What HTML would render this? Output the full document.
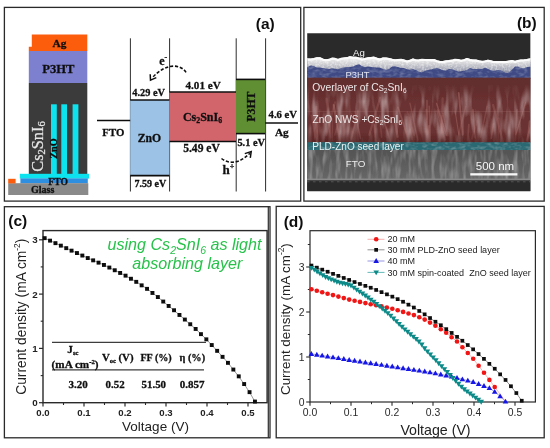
<!DOCTYPE html>
<html lang="en"><head><meta charset="utf-8"><title>Cs2SnI6 solar cell figure</title>
<style>
html,body{margin:0;padding:0;background:#fff;}
body{width:550px;height:448px;overflow:hidden;}
svg{display:block;}
.s{font-family:"Liberation Sans", sans-serif;}
.t{font-family:"Liberation Serif", serif;font-weight:bold;stroke:#111;stroke-width:0.3px;}
.b{font-family:"Liberation Sans", sans-serif;font-weight:bold;}
</style></head><body>
<svg width="550" height="448" viewBox="0 0 550 448">
<defs>
<filter id="soft" x="-5%" y="-5%" width="110%" height="110%"><feGaussianBlur stdDeviation="0.35"/></filter>
<filter id="noiseA" x="0" y="0" width="100%" height="100%"><feTurbulence type="fractalNoise" baseFrequency="0.16 0.035" numOctaves="2" seed="7" result="n"/><feColorMatrix in="n" type="matrix" values="0 0 0 0 1  0 0 0 0 1  0 0 0 0 1  2.6 0 0 0 -1.12"/><feComposite in2="SourceGraphic" operator="in"/></filter>
<filter id="noiseB" x="0" y="0" width="100%" height="100%"><feTurbulence type="fractalNoise" baseFrequency="0.45 0.45" numOctaves="2" seed="3" result="n"/><feColorMatrix in="n" type="matrix" values="0 0 0 0 1  0 0 0 0 1  0 0 0 0 1  2.2 0 0 0 -0.9"/><feComposite in2="SourceGraphic" operator="in"/></filter>
<filter id="noiseC" x="0" y="0" width="100%" height="100%"><feTurbulence type="fractalNoise" baseFrequency="0.18 0.3" numOctaves="2" seed="5" result="n"/><feColorMatrix in="n" type="matrix" values="0 0 0 0 1  0 0 0 0 1  0 0 0 0 1  2.4 0 0 0 -1.0"/><feComposite in2="SourceGraphic" operator="in"/></filter>
<filter id="noiseD" x="0" y="0" width="100%" height="100%"><feTurbulence type="fractalNoise" baseFrequency="0.22 0.05" numOctaves="2" seed="9" result="n"/><feColorMatrix in="n" type="matrix" values="0 0 0 0 1  0 0 0 0 1  0 0 0 0 1  2.4 0 0 0 -1.0"/><feComposite in2="SourceGraphic" operator="in"/></filter>
<filter id="blur1"><feGaussianBlur stdDeviation="0.7"/></filter>
<filter id="blur05"><feGaussianBlur stdDeviation="0.45"/></filter>
<linearGradient id="agg" x1="0" y1="57" x2="0" y2="72" gradientUnits="userSpaceOnUse"><stop offset="0" stop-color="#f6f6f6"/><stop offset="0.45" stop-color="#d0d0d4"/><stop offset="1" stop-color="#8f93a6"/></linearGradient>
<linearGradient id="redfade" x1="0" y1="84" x2="0" y2="142" gradientUnits="userSpaceOnUse"><stop offset="0" stop-color="#c48a88" stop-opacity="0"/><stop offset="0.3" stop-color="#c48a88" stop-opacity="1"/><stop offset="1" stop-color="#c48a88" stop-opacity="1"/></linearGradient>
<linearGradient id="redbot" x1="0" y1="132" x2="0" y2="142.5" gradientUnits="userSpaceOnUse"><stop offset="0" stop-color="#4a1c1c" stop-opacity="0"/><stop offset="1" stop-color="#4a1c1c" stop-opacity="0.55"/></linearGradient>
<linearGradient id="redtop" x1="0" y1="77.8" x2="0" y2="103.8" gradientUnits="userSpaceOnUse"><stop offset="0" stop-color="#5e2a2a" stop-opacity="0.6"/><stop offset="0.5" stop-color="#5e2a2a" stop-opacity="0.5"/><stop offset="1" stop-color="#5e2a2a" stop-opacity="0"/></linearGradient>
<linearGradient id="ftog" x1="0" y1="151" x2="0" y2="178" gradientUnits="userSpaceOnUse"><stop offset="0" stop-color="#545454"/><stop offset="1" stop-color="#666666"/></linearGradient>
<clipPath id="semclip"><rect x="307.2" y="33.2" width="223.5" height="158"/></clipPath>
</defs>
<rect x="0" y="0" width="550" height="448" fill="#ffffff"/>
<g filter="url(#soft)">
<rect x="4.4" y="7.4" width="296.3" height="193.7" fill="#fff" stroke="#2a2a2a" stroke-width="1.3"/>
<rect x="303.9" y="7.4" width="240.3" height="193.7" fill="#fff" stroke="#2a2a2a" stroke-width="1.3"/>
<rect x="4.4" y="206.7" width="265.6" height="231.1" fill="#fff" stroke="#2a2a2a" stroke-width="1.3"/>
<rect x="276.2" y="206.4" width="268.0" height="231.4" fill="#fff" stroke="#2a2a2a" stroke-width="1.3"/>
<g id="panel-a">
<rect x="28.8" y="83" width="58.5" height="91.3" fill="#3b3b3b"/>
<rect x="28.8" y="51" width="58.5" height="32" fill="#7d80cf"/>
<polygon points="31.8,34.5 87.3,34.5 87.3,51 28.8,51 28.8,46.8 31.8,46.8" fill="#fb5d10"/>
<rect x="51.0" y="104.3" width="5.8" height="70.5" fill="#0fe3ee"/>
<rect x="61.3" y="104.3" width="5.7" height="70.5" fill="#0fe3ee"/>
<rect x="72.6" y="104.3" width="5.8" height="70.5" fill="#0fe3ee"/>
<rect x="19.8" y="173.8" width="69.2" height="4.8" fill="#0fe3ee"/>
<rect x="20.4" y="178.4" width="67.4" height="5" fill="#2f8fe0"/>
<rect x="8.2" y="183.2" width="80.1" height="11.8" fill="#8a8a8a"/>
<rect x="8.2" y="178.8" width="7.4" height="4.6" fill="#fb5d10"/>
<text class="t" x="59.5" y="47" font-size="11.3" text-anchor="middle" fill="#111">Ag</text>
<text class="t" x="58.3" y="72.5" font-size="12.6" text-anchor="middle" fill="#111">P3HT</text>
<text x="0" y="0" transform="translate(42.6,146.5) rotate(-90)" stroke="#e6e6e6" stroke-width="0.25" font-family='"Liberation Serif", serif' font-size="16.3" text-anchor="middle" fill="#e6e6e6">Cs<tspan font-size="10.5" dy="2.5">2</tspan><tspan dy="-2.5">SnI</tspan><tspan font-size="10.5" dy="2.5">6</tspan></text>
<text class="t" x="0" y="0" transform="translate(57.3,148.5) rotate(-90)" font-size="10.2" text-anchor="middle" fill="#111">ZnO</text>
<text class="t" x="58.1" y="184.6" font-size="9.6" text-anchor="middle" fill="#111">FTO</text>
<text class="t" x="42.7" y="192.7" font-size="10" text-anchor="middle" fill="#111">Glass</text>
<line x1="130.4" y1="38.3" x2="130.4" y2="191.5" stroke="#2e2e2e" stroke-width="1"/>
<line x1="169.6" y1="38.3" x2="169.6" y2="191.5" stroke="#2e2e2e" stroke-width="1"/>
<line x1="236.2" y1="38.3" x2="236.2" y2="191.5" stroke="#2e2e2e" stroke-width="1"/>
<line x1="265.6" y1="38.3" x2="265.6" y2="191.5" stroke="#2e2e2e" stroke-width="1"/>
<rect x="130.2" y="100" width="39.2" height="75.6" fill="#9cc2e5"/>
<rect x="169.4" y="92" width="66.6" height="49.5" fill="#d2656c"/>
<rect x="236" y="79.4" width="29.2" height="54.2" fill="#5f8f33"/>
<line x1="130.2" y1="100.0" x2="169.4" y2="100.0" stroke="#111" stroke-width="1.6"/>
<line x1="130.2" y1="175.6" x2="169.4" y2="175.6" stroke="#111" stroke-width="1.6"/>
<line x1="169.4" y1="92.0" x2="236.0" y2="92.0" stroke="#111" stroke-width="1.6"/>
<line x1="169.4" y1="141.5" x2="236.0" y2="141.5" stroke="#111" stroke-width="1.6"/>
<line x1="236.0" y1="79.4" x2="265.2" y2="79.4" stroke="#111" stroke-width="1.6"/>
<line x1="236.0" y1="133.6" x2="265.2" y2="133.6" stroke="#111" stroke-width="1.6"/>
<line x1="97.0" y1="120.5" x2="130.2" y2="120.5" stroke="#111" stroke-width="1.6"/>
<line x1="265.2" y1="123.0" x2="298.0" y2="123.0" stroke="#111" stroke-width="1.6"/>
<text class="t" x="113.3" y="136.1" font-size="10.8" text-anchor="middle" fill="#111">FTO</text>
<text class="t" x="148.6" y="96.2" font-size="10.3" text-anchor="middle" fill="#111">4.29 eV</text>
<text class="t" x="203.1" y="88.8" font-size="11.1" text-anchor="middle" fill="#111">4.01 eV</text>
<text class="t" x="149.5" y="142.0" font-size="11.7" text-anchor="middle" fill="#111">ZnO</text>
<text class="t" x="202.5" y="121.0" font-size="12.0" text-anchor="middle" fill="#111">Cs<tspan font-size="7.8" dy="2.2">2</tspan><tspan dy="-2.2">SnI</tspan><tspan font-size="7.8" dy="2.2">6</tspan></text>
<text class="t" x="201.5" y="151.8" font-size="11.6" text-anchor="middle" fill="#111">5.49 eV</text>
<text class="t" x="150.4" y="187.3" font-size="10.0" text-anchor="middle" fill="#111">7.59 eV</text>
<text class="t" x="251.2" y="146.0" font-size="10.3" text-anchor="middle" fill="#111">5.1 eV</text>
<text class="t" x="282.8" y="118.4" font-size="10.7" text-anchor="middle" fill="#111">4.6 eV</text>
<text class="t" x="281.8" y="135.8" font-size="11.3" text-anchor="middle" fill="#111">Ag</text>
<text class="t" x="0" y="0" transform="translate(255.2,106.6) rotate(-90)" font-size="11.8" text-anchor="middle" fill="#111">P3HT</text>
<text class="t" x="163.2" y="64.6" font-size="12.0" text-anchor="middle" fill="#111">e<tspan font-size="8" dy="-4.5">-</tspan></text>
<text class="t" x="228.5" y="173.8" font-size="13.0" text-anchor="middle" fill="#111">h<tspan font-size="8" dy="-4.5">+</tspan></text>
<path d="M186,72.4 C181,64 166,62.5 152.5,77.5" fill="none" stroke="#111" stroke-width="1.6" stroke-dasharray="3.2,1.8"/>
<polyline points="150.2,74.2 150.5,80.2 156.3,77.6" fill="none" stroke="#111" stroke-width="1.5"/>
<path d="M221.5,158.5 C229,164.5 240,163.5 249.8,153.2" fill="none" stroke="#111" stroke-width="1.6" stroke-dasharray="3.2,1.8"/>
<polyline points="244.8,153.6 251.2,151.6 250.3,157.8" fill="none" stroke="#111" stroke-width="1.5"/>
<text class="b" x="265.2" y="29.3" font-size="15.5" text-anchor="middle" fill="#111">(a)</text>
</g>
<g id="panel-b">
<g clip-path="url(#semclip)">
<rect x="307" y="33" width="223.5" height="158" fill="#2c2c2c"/>
<rect x="307" y="62" width="223.5" height="17" fill="#404c86"/>
<rect x="307" y="62" width="223.5" height="17" fill="#6f7fc0" opacity="0.22" filter="url(#noiseC)"/>
<rect x="307" y="77.8" width="223.5" height="64.7" fill="#6b3131"/>
<rect x="307" y="77.8" width="223.5" height="26" fill="url(#redtop)"/>
<g filter="url(#blur05)">
<rect x="307" y="84" width="223.5" height="58.5" fill="url(#redfade)" opacity="0.42" filter="url(#noiseA)"/>
<line x1="526.6" y1="140.5" x2="531.3" y2="125.7" stroke="#c98f8c" stroke-width="2.1" opacity="0.22" stroke-linecap="round"/>
<line x1="414.2" y1="135.2" x2="407.5" y2="112.2" stroke="#c98f8c" stroke-width="1.9" opacity="0.19" stroke-linecap="round"/>
<line x1="458.9" y1="134.9" x2="455.1" y2="111.1" stroke="#c98f8c" stroke-width="1.1" opacity="0.30" stroke-linecap="round"/>
<line x1="326.2" y1="134.9" x2="335.0" y2="102.3" stroke="#c98f8c" stroke-width="2.1" opacity="0.16" stroke-linecap="round"/>
<line x1="347.7" y1="134.8" x2="351.8" y2="113.0" stroke="#c98f8c" stroke-width="1.2" opacity="0.19" stroke-linecap="round"/>
<line x1="457.2" y1="140.5" x2="465.6" y2="106.5" stroke="#c98f8c" stroke-width="1.4" opacity="0.19" stroke-linecap="round"/>
<line x1="315.1" y1="139.1" x2="315.9" y2="123.3" stroke="#c98f8c" stroke-width="2.0" opacity="0.25" stroke-linecap="round"/>
<line x1="441.8" y1="137.7" x2="442.6" y2="98.4" stroke="#c98f8c" stroke-width="2.2" opacity="0.20" stroke-linecap="round"/>
<line x1="339.9" y1="140.7" x2="333.7" y2="105.1" stroke="#c98f8c" stroke-width="2.1" opacity="0.32" stroke-linecap="round"/>
<line x1="428.8" y1="141.4" x2="426.3" y2="110.0" stroke="#c98f8c" stroke-width="2.3" opacity="0.17" stroke-linecap="round"/>
<line x1="360.5" y1="138.6" x2="355.0" y2="111.4" stroke="#c98f8c" stroke-width="1.5" opacity="0.27" stroke-linecap="round"/>
<line x1="412.5" y1="142.0" x2="411.1" y2="116.4" stroke="#c98f8c" stroke-width="1.6" opacity="0.13" stroke-linecap="round"/>
<line x1="369.3" y1="134.9" x2="380.1" y2="97.7" stroke="#c98f8c" stroke-width="2.1" opacity="0.22" stroke-linecap="round"/>
<line x1="515.3" y1="140.1" x2="517.0" y2="109.5" stroke="#c98f8c" stroke-width="1.6" opacity="0.18" stroke-linecap="round"/>
<line x1="381.7" y1="137.4" x2="379.5" y2="115.5" stroke="#c98f8c" stroke-width="1.5" opacity="0.19" stroke-linecap="round"/>
<line x1="491.3" y1="138.1" x2="493.5" y2="123.8" stroke="#c98f8c" stroke-width="1.7" opacity="0.29" stroke-linecap="round"/>
<line x1="417.8" y1="140.0" x2="410.0" y2="103.3" stroke="#c98f8c" stroke-width="1.4" opacity="0.23" stroke-linecap="round"/>
<line x1="498.2" y1="141.6" x2="498.7" y2="118.1" stroke="#c98f8c" stroke-width="1.9" opacity="0.14" stroke-linecap="round"/>
<line x1="475.2" y1="138.0" x2="473.0" y2="109.6" stroke="#c98f8c" stroke-width="1.4" opacity="0.32" stroke-linecap="round"/>
<line x1="527.6" y1="141.1" x2="529.8" y2="121.3" stroke="#c98f8c" stroke-width="2.1" opacity="0.30" stroke-linecap="round"/>
<line x1="375.5" y1="140.8" x2="374.3" y2="124.8" stroke="#c98f8c" stroke-width="1.8" opacity="0.31" stroke-linecap="round"/>
<line x1="316.3" y1="141.8" x2="319.8" y2="109.7" stroke="#c98f8c" stroke-width="1.2" opacity="0.14" stroke-linecap="round"/>
<line x1="315.2" y1="137.3" x2="311.6" y2="115.8" stroke="#c98f8c" stroke-width="1.9" opacity="0.15" stroke-linecap="round"/>
<line x1="427.0" y1="141.8" x2="428.7" y2="126.0" stroke="#c98f8c" stroke-width="2.1" opacity="0.22" stroke-linecap="round"/>
<line x1="397.5" y1="136.9" x2="395.2" y2="120.9" stroke="#c98f8c" stroke-width="2.3" opacity="0.33" stroke-linecap="round"/>
<line x1="317.4" y1="142.5" x2="316.4" y2="107.0" stroke="#c98f8c" stroke-width="2.1" opacity="0.26" stroke-linecap="round"/>
<line x1="407.6" y1="136.8" x2="398.1" y2="107.4" stroke="#c98f8c" stroke-width="1.7" opacity="0.31" stroke-linecap="round"/>
<line x1="480.7" y1="137.3" x2="487.0" y2="106.5" stroke="#c98f8c" stroke-width="1.4" opacity="0.21" stroke-linecap="round"/>
<line x1="447.7" y1="135.9" x2="442.9" y2="113.4" stroke="#c98f8c" stroke-width="1.4" opacity="0.22" stroke-linecap="round"/>
<line x1="330.7" y1="137.5" x2="326.7" y2="98.6" stroke="#c98f8c" stroke-width="2.3" opacity="0.21" stroke-linecap="round"/>
<line x1="426.9" y1="134.7" x2="427.0" y2="100.8" stroke="#c98f8c" stroke-width="2.1" opacity="0.22" stroke-linecap="round"/>
<line x1="467.7" y1="140.7" x2="468.8" y2="124.6" stroke="#c98f8c" stroke-width="1.7" opacity="0.22" stroke-linecap="round"/>
<line x1="334.8" y1="135.0" x2="339.9" y2="118.7" stroke="#c98f8c" stroke-width="1.4" opacity="0.18" stroke-linecap="round"/>
<line x1="515.8" y1="134.8" x2="525.5" y2="102.6" stroke="#c98f8c" stroke-width="1.2" opacity="0.31" stroke-linecap="round"/>
<line x1="445.0" y1="140.1" x2="437.4" y2="110.4" stroke="#c98f8c" stroke-width="2.1" opacity="0.26" stroke-linecap="round"/>
<line x1="332.5" y1="140.7" x2="332.2" y2="118.6" stroke="#c98f8c" stroke-width="1.3" opacity="0.19" stroke-linecap="round"/>
<line x1="430.3" y1="141.3" x2="429.2" y2="106.2" stroke="#c98f8c" stroke-width="1.6" opacity="0.25" stroke-linecap="round"/>
<line x1="343.7" y1="135.4" x2="344.2" y2="118.2" stroke="#c98f8c" stroke-width="2.4" opacity="0.15" stroke-linecap="round"/>
<line x1="462.7" y1="134.7" x2="458.7" y2="93.0" stroke="#c98f8c" stroke-width="1.9" opacity="0.33" stroke-linecap="round"/>
<line x1="446.4" y1="135.5" x2="436.6" y2="103.4" stroke="#c98f8c" stroke-width="1.5" opacity="0.32" stroke-linecap="round"/>
<line x1="412.1" y1="139.0" x2="407.3" y2="117.0" stroke="#c98f8c" stroke-width="1.9" opacity="0.21" stroke-linecap="round"/>
<line x1="503.1" y1="142.2" x2="493.1" y2="105.0" stroke="#c98f8c" stroke-width="2.2" opacity="0.22" stroke-linecap="round"/>
<line x1="471.8" y1="138.9" x2="477.1" y2="121.2" stroke="#c98f8c" stroke-width="1.9" opacity="0.17" stroke-linecap="round"/>
<line x1="440.2" y1="140.8" x2="441.8" y2="115.6" stroke="#c98f8c" stroke-width="1.9" opacity="0.14" stroke-linecap="round"/>
<line x1="351.4" y1="138.8" x2="357.8" y2="111.1" stroke="#c98f8c" stroke-width="1.8" opacity="0.30" stroke-linecap="round"/>
<line x1="390.3" y1="141.0" x2="383.8" y2="120.2" stroke="#c98f8c" stroke-width="1.5" opacity="0.26" stroke-linecap="round"/>
</g>
<rect x="307" y="132" width="223.5" height="10.5" fill="url(#redbot)"/>
<line x1="307" y1="111.3" x2="530.5" y2="111.3" stroke="#b08080" stroke-width="0.5" opacity="0.5"/>
<rect x="307" y="142.2" width="223.5" height="8" fill="#2c6872"/>
<rect x="307" y="142.2" width="223.5" height="8" fill="#7fd0d8" opacity="0.25" filter="url(#noiseC)"/>
<rect x="307" y="150" width="223.5" height="29.5" fill="url(#ftog)"/>
<rect x="307" y="150" width="223.5" height="29.5" fill="#b4b4b4" opacity="0.3" filter="url(#noiseD)"/>
<rect x="307" y="178.6" width="223.5" height="1.5" fill="#8a8a8a"/>
<rect x="307" y="180.1" width="223.5" height="1.2" fill="#4a4a4a"/>
<rect x="307" y="181.3" width="223.5" height="11" fill="#2b2b2b"/>
<line x1="307" y1="181.8" x2="530.5" y2="181.8" stroke="#777" stroke-width="0.8" stroke-dasharray="2.5,3.5" opacity="0.7"/>
<g filter="url(#blur05)">
<polygon points="305.0,57.5 308.0,58.6 311.0,58.5 314.0,58.0 317.0,57.3 320.0,57.3 323.0,58.8 326.0,59.3 329.0,58.9 332.0,57.7 335.0,57.9 338.0,59.1 341.0,57.9 344.0,57.5 347.0,57.2 350.0,56.3 353.0,56.8 356.0,56.8 359.0,57.5 362.0,58.6 365.0,58.0 368.0,57.3 371.0,57.0 374.0,56.7 377.0,57.7 380.0,58.6 383.0,57.6 386.0,57.5 389.0,58.1 392.0,58.8 395.0,59.4 398.0,59.1 401.0,58.9 404.0,59.6 407.0,60.5 410.0,59.7 413.0,58.6 416.0,59.5 419.0,59.4 422.0,58.9 425.0,59.0 428.0,59.1 431.0,59.2 434.0,59.1 437.0,60.2 440.0,61.1 443.0,61.1 446.0,60.4 449.0,60.1 452.0,59.7 455.0,58.9 458.0,59.0 461.0,59.9 464.0,59.2 467.0,58.0 470.0,59.1 473.0,59.6 476.0,59.6 479.0,60.4 482.0,60.9 485.0,60.5 488.0,59.7 491.0,60.4 494.0,61.2 497.0,61.1 500.0,61.2 503.0,61.1 506.0,61.2 509.0,60.6 512.0,60.1 515.0,60.9 518.0,60.1 521.0,59.5 524.0,59.4 527.0,59.0 530.0,58.4 533.0,57.6 533.0,68.8 530.0,66.4 527.0,66.9 524.0,68.3 521.0,68.0 518.0,66.5 515.0,66.6 512.0,69.8 509.0,72.3 506.0,73.0 503.0,71.5 500.0,69.7 497.0,70.3 494.0,70.7 491.0,70.4 488.0,68.8 485.0,67.6 482.0,68.9 479.0,68.8 476.0,69.1 473.0,69.1 470.0,67.8 467.0,70.0 464.0,70.8 461.0,71.2 458.0,71.4 455.0,70.2 452.0,69.0 449.0,69.1 446.0,70.5 443.0,70.3 440.0,69.1 437.0,67.9 434.0,68.6 431.0,69.4 428.0,69.7 425.0,70.8 422.0,72.3 419.0,71.8 416.0,69.9 413.0,69.0 410.0,69.8 407.0,69.2 404.0,68.1 401.0,67.7 398.0,67.0 395.0,66.2 392.0,66.6 389.0,69.0 386.0,69.9 383.0,68.9 380.0,67.6 377.0,67.5 374.0,67.2 371.0,66.9 368.0,66.6 365.0,66.9 362.0,65.9 359.0,64.2 356.0,65.1 353.0,66.4 350.0,67.0 347.0,66.9 344.0,67.4 341.0,68.0 338.0,69.2 335.0,68.8 332.0,68.3 329.0,68.9 326.0,68.6 323.0,68.1 320.0,67.5 317.0,67.5 314.0,65.9 311.0,65.3 308.0,66.7 305.0,68.4" fill="url(#agg)"/>
<polygon points="305.0,57.5 308.0,58.6 311.0,58.5 314.0,58.0 317.0,57.3 320.0,57.3 323.0,58.8 326.0,59.3 329.0,58.9 332.0,57.7 335.0,57.9 338.0,59.1 341.0,57.9 344.0,57.5 347.0,57.2 350.0,56.3 353.0,56.8 356.0,56.8 359.0,57.5 362.0,58.6 365.0,58.0 368.0,57.3 371.0,57.0 374.0,56.7 377.0,57.7 380.0,58.6 383.0,57.6 386.0,57.5 389.0,58.1 392.0,58.8 395.0,59.4 398.0,59.1 401.0,58.9 404.0,59.6 407.0,60.5 410.0,59.7 413.0,58.6 416.0,59.5 419.0,59.4 422.0,58.9 425.0,59.0 428.0,59.1 431.0,59.2 434.0,59.1 437.0,60.2 440.0,61.1 443.0,61.1 446.0,60.4 449.0,60.1 452.0,59.7 455.0,58.9 458.0,59.0 461.0,59.9 464.0,59.2 467.0,58.0 470.0,59.1 473.0,59.6 476.0,59.6 479.0,60.4 482.0,60.9 485.0,60.5 488.0,59.7 491.0,60.4 494.0,61.2 497.0,61.1 500.0,61.2 503.0,61.1 506.0,61.2 509.0,60.6 512.0,60.1 515.0,60.9 518.0,60.1 521.0,59.5 524.0,59.4 527.0,59.0 530.0,58.4 533.0,57.6 533.0,68.8 530.0,66.4 527.0,66.9 524.0,68.3 521.0,68.0 518.0,66.5 515.0,66.6 512.0,69.8 509.0,72.3 506.0,73.0 503.0,71.5 500.0,69.7 497.0,70.3 494.0,70.7 491.0,70.4 488.0,68.8 485.0,67.6 482.0,68.9 479.0,68.8 476.0,69.1 473.0,69.1 470.0,67.8 467.0,70.0 464.0,70.8 461.0,71.2 458.0,71.4 455.0,70.2 452.0,69.0 449.0,69.1 446.0,70.5 443.0,70.3 440.0,69.1 437.0,67.9 434.0,68.6 431.0,69.4 428.0,69.7 425.0,70.8 422.0,72.3 419.0,71.8 416.0,69.9 413.0,69.0 410.0,69.8 407.0,69.2 404.0,68.1 401.0,67.7 398.0,67.0 395.0,66.2 392.0,66.6 389.0,69.0 386.0,69.9 383.0,68.9 380.0,67.6 377.0,67.5 374.0,67.2 371.0,66.9 368.0,66.6 365.0,66.9 362.0,65.9 359.0,64.2 356.0,65.1 353.0,66.4 350.0,67.0 347.0,66.9 344.0,67.4 341.0,68.0 338.0,69.2 335.0,68.8 332.0,68.3 329.0,68.9 326.0,68.6 323.0,68.1 320.0,67.5 317.0,67.5 314.0,65.9 311.0,65.3 308.0,66.7 305.0,68.4" fill="#6c6c78" opacity="0.55" filter="url(#noiseB)"/>
<polyline points="305.0,58.5 308.0,59.6 311.0,59.5 314.0,59.0 317.0,58.3 320.0,58.3 323.0,59.8 326.0,60.3 329.0,59.9 332.0,58.7 335.0,58.9 338.0,60.1 341.0,58.9 344.0,58.5 347.0,58.2 350.0,57.3 353.0,57.8 356.0,57.8 359.0,58.5 362.0,59.6 365.0,59.0 368.0,58.3 371.0,58.0 374.0,57.7 377.0,58.7 380.0,59.6 383.0,58.6 386.0,58.5 389.0,59.1 392.0,59.8 395.0,60.4 398.0,60.1 401.0,59.9 404.0,60.6 407.0,61.5 410.0,60.7 413.0,59.6 416.0,60.5 419.0,60.4 422.0,59.9 425.0,60.0 428.0,60.1 431.0,60.2 434.0,60.1 437.0,61.2 440.0,62.1 443.0,62.1 446.0,61.4 449.0,61.1 452.0,60.7 455.0,59.9 458.0,60.0 461.0,60.9 464.0,60.2 467.0,59.0 470.0,60.1 473.0,60.6 476.0,60.6 479.0,61.4 482.0,61.9 485.0,61.5 488.0,60.7 491.0,61.4 494.0,62.2 497.0,62.1 500.0,62.2 503.0,62.1 506.0,62.2 509.0,61.6 512.0,61.1 515.0,61.9 518.0,61.1 521.0,60.5 524.0,60.4 527.0,60.0 530.0,59.4 533.0,58.6" fill="none" stroke="#fbfbfb" stroke-width="2.2" stroke-linejoin="round"/>
</g>
</g>
<text class="s" x="353.0" y="55.9" font-size="9.6" text-anchor="start" fill="#f2f2f2">Ag</text>
<text class="s" x="345.5" y="78.0" font-size="9.4" text-anchor="start" fill="#e4e4f0">P3HT</text>
<text class="s" x="312.3" y="91.1" font-size="10.0" text-anchor="start" fill="#ece6e6" textLength="94.3" lengthAdjust="spacingAndGlyphs">Overlayer of Cs<tspan font-size="6.3" dy="2">2</tspan><tspan dy="-2">SnI</tspan><tspan font-size="6.3" dy="2">6</tspan></text>
<text class="s" x="312.5" y="122.8" font-size="10.0" text-anchor="start" fill="#ece6e6" textLength="89.5" lengthAdjust="spacingAndGlyphs">ZnO NWS +Cs<tspan font-size="6.3" dy="2">2</tspan><tspan dy="-2">SnI</tspan><tspan font-size="6.3" dy="2">6</tspan></text>
<text class="s" x="312.3" y="149.7" font-size="10.0" text-anchor="start" fill="#e8f0f0" textLength="91.5" lengthAdjust="spacingAndGlyphs">PLD-ZnO seed layer</text>
<text class="s" x="345.8" y="167.4" font-size="9.9" text-anchor="start" fill="#ececec">FTO</text>
<text class="s" x="495.0" y="170.1" font-size="11.5" text-anchor="middle" fill="#f6f6f6">500 nm</text>
<rect x="470.3" y="173.2" width="47.1" height="2.3" fill="#f8f8f8"/>
<text class="b" x="526.8" y="28.2" font-size="15.5" text-anchor="middle" fill="#111">(b)</text>
</g>
<g id="panel-c">
<rect x="43" y="230.6" width="224.1" height="172.1" fill="#fff" stroke="#2a2a2a" stroke-width="1.4"/>
<line x1="268.3" y1="206" x2="268.3" y2="437.8" stroke="#2a2a2a" stroke-width="1.2"/>
<line x1="43.0" y1="402.7" x2="43.0" y2="406.6" stroke="#2a2a2a" stroke-width="1.2"/>
<text class="b" x="43.0" y="416.2" font-size="9.6" text-anchor="middle" fill="#222">0.0</text>
<line x1="63.5" y1="402.7" x2="63.5" y2="405" stroke="#2a2a2a" stroke-width="1.1"/>
<line x1="84.0" y1="402.7" x2="84.0" y2="406.6" stroke="#2a2a2a" stroke-width="1.2"/>
<text class="b" x="84.0" y="416.2" font-size="9.6" text-anchor="middle" fill="#222">0.1</text>
<line x1="104.5" y1="402.7" x2="104.5" y2="405" stroke="#2a2a2a" stroke-width="1.1"/>
<line x1="125.0" y1="402.7" x2="125.0" y2="406.6" stroke="#2a2a2a" stroke-width="1.2"/>
<text class="b" x="125.0" y="416.2" font-size="9.6" text-anchor="middle" fill="#222">0.2</text>
<line x1="145.5" y1="402.7" x2="145.5" y2="405" stroke="#2a2a2a" stroke-width="1.1"/>
<line x1="166.0" y1="402.7" x2="166.0" y2="406.6" stroke="#2a2a2a" stroke-width="1.2"/>
<text class="b" x="166.0" y="416.2" font-size="9.6" text-anchor="middle" fill="#222">0.3</text>
<line x1="186.5" y1="402.7" x2="186.5" y2="405" stroke="#2a2a2a" stroke-width="1.1"/>
<line x1="207.0" y1="402.7" x2="207.0" y2="406.6" stroke="#2a2a2a" stroke-width="1.2"/>
<text class="b" x="207.0" y="416.2" font-size="9.6" text-anchor="middle" fill="#222">0.4</text>
<line x1="227.5" y1="402.7" x2="227.5" y2="405" stroke="#2a2a2a" stroke-width="1.1"/>
<line x1="248.0" y1="402.7" x2="248.0" y2="406.6" stroke="#2a2a2a" stroke-width="1.2"/>
<text class="b" x="248.0" y="416.2" font-size="9.6" text-anchor="middle" fill="#222">0.5</text>
<line x1="39" y1="402.7" x2="43" y2="402.7" stroke="#2a2a2a" stroke-width="1.2"/>
<text class="b" x="37.6" y="406.2" font-size="9.8" text-anchor="end" fill="#222">0</text>
<line x1="40.7" y1="375.6" x2="43" y2="375.6" stroke="#2a2a2a" stroke-width="1.1"/>
<line x1="39" y1="348.4" x2="43" y2="348.4" stroke="#2a2a2a" stroke-width="1.2"/>
<text class="b" x="37.6" y="351.9" font-size="9.8" text-anchor="end" fill="#222">1</text>
<line x1="40.7" y1="321.2" x2="43" y2="321.2" stroke="#2a2a2a" stroke-width="1.1"/>
<line x1="39" y1="294.1" x2="43" y2="294.1" stroke="#2a2a2a" stroke-width="1.2"/>
<text class="b" x="37.6" y="297.6" font-size="9.8" text-anchor="end" fill="#222">2</text>
<line x1="40.7" y1="266.9" x2="43" y2="266.9" stroke="#2a2a2a" stroke-width="1.1"/>
<line x1="39" y1="239.8" x2="43" y2="239.8" stroke="#2a2a2a" stroke-width="1.2"/>
<text class="b" x="37.6" y="243.3" font-size="9.8" text-anchor="end" fill="#222">3</text>
<text class="s" x="0" y="0" transform="translate(25.8,394.8) rotate(-90)" font-size="13.8" letter-spacing="0" text-anchor="start" fill="#222">Current density (mA cm<tspan font-size="8.3" dy="-5.8">-2</tspan><tspan dy="5.8">)</tspan></text>
<text class="s" x="155.5" y="431.4" font-size="13.5" text-anchor="middle" fill="#222">Voltage (V)</text>
<polyline points="44.6,238.1 50.0,240.6 55.4,243.1 60.8,245.6 66.2,248.1 71.6,250.6 77.0,253.1 82.4,255.6 87.8,258.0 93.2,260.3 98.6,262.6 103.9,264.9 109.3,267.6 114.7,270.3 120.1,272.9 125.5,275.7 130.9,278.8 136.3,281.8 141.7,285.3 147.1,288.8 152.5,292.9 157.9,297.1 163.3,301.6 168.6,306.0 174.0,310.3 179.4,314.9 184.8,319.6 190.2,324.3 195.6,328.9 201.0,334.1 206.4,339.4 211.8,345.1 217.2,350.9 222.6,356.8 228.0,362.8 233.3,369.6 238.7,376.4 244.1,384.0 249.5,392.2 254.9,401.5" fill="none" stroke="#555" stroke-width="0.6"/>
<rect x="42.7" y="236.2" width="3.9" height="3.9" fill="#0a0a0a"/>
<rect x="48.1" y="238.7" width="3.9" height="3.9" fill="#0a0a0a"/>
<rect x="53.5" y="241.2" width="3.9" height="3.9" fill="#0a0a0a"/>
<rect x="58.9" y="243.7" width="3.9" height="3.9" fill="#0a0a0a"/>
<rect x="64.3" y="246.2" width="3.9" height="3.9" fill="#0a0a0a"/>
<rect x="69.6" y="248.7" width="3.9" height="3.9" fill="#0a0a0a"/>
<rect x="75.0" y="251.1" width="3.9" height="3.9" fill="#0a0a0a"/>
<rect x="80.4" y="253.6" width="3.9" height="3.9" fill="#0a0a0a"/>
<rect x="85.8" y="256.1" width="3.9" height="3.9" fill="#0a0a0a"/>
<rect x="91.2" y="258.4" width="3.9" height="3.9" fill="#0a0a0a"/>
<rect x="96.6" y="260.7" width="3.9" height="3.9" fill="#0a0a0a"/>
<rect x="102.0" y="263.0" width="3.9" height="3.9" fill="#0a0a0a"/>
<rect x="107.4" y="265.6" width="3.9" height="3.9" fill="#0a0a0a"/>
<rect x="112.8" y="268.3" width="3.9" height="3.9" fill="#0a0a0a"/>
<rect x="118.2" y="271.0" width="3.9" height="3.9" fill="#0a0a0a"/>
<rect x="123.6" y="273.7" width="3.9" height="3.9" fill="#0a0a0a"/>
<rect x="129.0" y="276.8" width="3.9" height="3.9" fill="#0a0a0a"/>
<rect x="134.3" y="279.9" width="3.9" height="3.9" fill="#0a0a0a"/>
<rect x="139.7" y="283.4" width="3.9" height="3.9" fill="#0a0a0a"/>
<rect x="145.1" y="286.9" width="3.9" height="3.9" fill="#0a0a0a"/>
<rect x="150.5" y="291.0" width="3.9" height="3.9" fill="#0a0a0a"/>
<rect x="155.9" y="295.1" width="3.9" height="3.9" fill="#0a0a0a"/>
<rect x="161.3" y="299.6" width="3.9" height="3.9" fill="#0a0a0a"/>
<rect x="166.7" y="304.0" width="3.9" height="3.9" fill="#0a0a0a"/>
<rect x="172.1" y="308.3" width="3.9" height="3.9" fill="#0a0a0a"/>
<rect x="177.5" y="313.0" width="3.9" height="3.9" fill="#0a0a0a"/>
<rect x="182.9" y="317.6" width="3.9" height="3.9" fill="#0a0a0a"/>
<rect x="188.3" y="322.3" width="3.9" height="3.9" fill="#0a0a0a"/>
<rect x="193.7" y="327.0" width="3.9" height="3.9" fill="#0a0a0a"/>
<rect x="199.0" y="332.2" width="3.9" height="3.9" fill="#0a0a0a"/>
<rect x="204.4" y="337.4" width="3.9" height="3.9" fill="#0a0a0a"/>
<rect x="209.8" y="343.1" width="3.9" height="3.9" fill="#0a0a0a"/>
<rect x="215.2" y="348.9" width="3.9" height="3.9" fill="#0a0a0a"/>
<rect x="220.6" y="354.9" width="3.9" height="3.9" fill="#0a0a0a"/>
<rect x="226.0" y="360.9" width="3.9" height="3.9" fill="#0a0a0a"/>
<rect x="231.4" y="367.6" width="3.9" height="3.9" fill="#0a0a0a"/>
<rect x="236.8" y="374.4" width="3.9" height="3.9" fill="#0a0a0a"/>
<rect x="242.2" y="382.1" width="3.9" height="3.9" fill="#0a0a0a"/>
<rect x="247.6" y="390.2" width="3.9" height="3.9" fill="#0a0a0a"/>
<rect x="253.0" y="399.6" width="3.9" height="3.9" fill="#0a0a0a"/>
<text class="s" font-style="italic" x="107.5" y="249.6" font-size="16.1" fill="#27c24a">using Cs<tspan font-size="10.5" dy="4.5">2</tspan><tspan dy="-4.5">SnI</tspan><tspan font-size="10.5" dy="4.5">6</tspan><tspan dy="-4.5"> as light</tspan></text>
<text class="s" font-style="italic" x="132.3" y="268.9" font-size="16.1" fill="#27c24a">absorbing layer</text>
<line x1="52" y1="342.4" x2="206" y2="342.4" stroke="#3c3c3c" stroke-width="1.15"/>
<line x1="52" y1="369.8" x2="204" y2="369.8" stroke="#3c3c3c" stroke-width="1.15"/>
<text class="t" x="72.8" y="352.5" font-size="11.3" text-anchor="middle" fill="#111">J<tspan font-size="6.5" dy="2">sc</tspan></text>
<text class="t" x="75.1" y="367.8" font-size="11.2" text-anchor="middle" fill="#111">(mA cm<tspan font-size="6.8" dy="-3.6">-2</tspan><tspan dy="3.6">)</tspan></text>
<text class="t" x="117.7" y="361.4" font-size="10.8" text-anchor="middle" fill="#111">V<tspan font-size="6.5" dy="2">oc</tspan><tspan dy="-2"> (V)</tspan></text>
<text class="t" x="156.1" y="361.4" font-size="10.1" text-anchor="middle" fill="#111">FF (%)</text>
<text class="t" x="192.3" y="361.4" font-size="10.3" text-anchor="middle" fill="#111">η (%)</text>
<text class="t" x="78.0" y="388.2" font-size="11.0" text-anchor="middle" fill="#111">3.20</text>
<text class="t" x="115.1" y="388.2" font-size="10.9" text-anchor="middle" fill="#111">0.52</text>
<text class="t" x="153.8" y="388.2" font-size="10.9" text-anchor="middle" fill="#111">51.50</text>
<text class="t" x="192.0" y="388.2" font-size="11.0" text-anchor="middle" fill="#111">0.857</text>
<text class="b" x="17.8" y="226.3" font-size="15.5" text-anchor="middle" fill="#111">(c)</text>
</g>
<g id="panel-d">
<rect x="310" y="230.7" width="225.4" height="171.3" fill="#fff" stroke="#2a2a2a" stroke-width="1.2"/>
<line x1="310.0" y1="402" x2="310.0" y2="405.8" stroke="#2a2a2a" stroke-width="1.1"/>
<text class="s" x="310.0" y="416" font-size="10.4" text-anchor="middle" fill="#2a2a2a">0.0</text>
<line x1="330.5" y1="402" x2="330.5" y2="404.2" stroke="#2a2a2a" stroke-width="1"/>
<line x1="351.0" y1="402" x2="351.0" y2="405.8" stroke="#2a2a2a" stroke-width="1.1"/>
<text class="s" x="351.0" y="416" font-size="10.4" text-anchor="middle" fill="#2a2a2a">0.1</text>
<line x1="371.5" y1="402" x2="371.5" y2="404.2" stroke="#2a2a2a" stroke-width="1"/>
<line x1="392.0" y1="402" x2="392.0" y2="405.8" stroke="#2a2a2a" stroke-width="1.1"/>
<text class="s" x="392.0" y="416" font-size="10.4" text-anchor="middle" fill="#2a2a2a">0.2</text>
<line x1="412.5" y1="402" x2="412.5" y2="404.2" stroke="#2a2a2a" stroke-width="1"/>
<line x1="433.0" y1="402" x2="433.0" y2="405.8" stroke="#2a2a2a" stroke-width="1.1"/>
<text class="s" x="433.0" y="416" font-size="10.4" text-anchor="middle" fill="#2a2a2a">0.3</text>
<line x1="453.5" y1="402" x2="453.5" y2="404.2" stroke="#2a2a2a" stroke-width="1"/>
<line x1="474.0" y1="402" x2="474.0" y2="405.8" stroke="#2a2a2a" stroke-width="1.1"/>
<text class="s" x="474.0" y="416" font-size="10.4" text-anchor="middle" fill="#2a2a2a">0.4</text>
<line x1="494.5" y1="402" x2="494.5" y2="404.2" stroke="#2a2a2a" stroke-width="1"/>
<line x1="515.0" y1="402" x2="515.0" y2="405.8" stroke="#2a2a2a" stroke-width="1.1"/>
<text class="s" x="515.0" y="416" font-size="10.4" text-anchor="middle" fill="#2a2a2a">0.5</text>
<line x1="306.2" y1="402.0" x2="310" y2="402.0" stroke="#2a2a2a" stroke-width="1.1"/>
<text class="s" x="304.5" y="405.7" font-size="10.4" text-anchor="end" fill="#2a2a2a">0</text>
<line x1="307.8" y1="379.5" x2="310" y2="379.5" stroke="#2a2a2a" stroke-width="1"/>
<line x1="306.2" y1="357.0" x2="310" y2="357.0" stroke="#2a2a2a" stroke-width="1.1"/>
<text class="s" x="304.5" y="360.7" font-size="10.4" text-anchor="end" fill="#2a2a2a">1</text>
<line x1="307.8" y1="334.5" x2="310" y2="334.5" stroke="#2a2a2a" stroke-width="1"/>
<line x1="306.2" y1="312.0" x2="310" y2="312.0" stroke="#2a2a2a" stroke-width="1.1"/>
<text class="s" x="304.5" y="315.7" font-size="10.4" text-anchor="end" fill="#2a2a2a">2</text>
<line x1="307.8" y1="289.5" x2="310" y2="289.5" stroke="#2a2a2a" stroke-width="1"/>
<line x1="306.2" y1="267.0" x2="310" y2="267.0" stroke="#2a2a2a" stroke-width="1.1"/>
<text class="s" x="304.5" y="270.7" font-size="10.4" text-anchor="end" fill="#2a2a2a">3</text>
<line x1="307.8" y1="244.5" x2="310" y2="244.5" stroke="#2a2a2a" stroke-width="1"/>
<text class="s" x="0" y="0" transform="translate(289.8,395) rotate(-90)" font-size="13.4" text-anchor="start" fill="#222">Current density (mA cm<tspan font-size="8.3" dy="-5.8">-2</tspan><tspan dy="5.8">)</tspan></text>
<text class="s" x="435.5" y="434.5" font-size="14.2" text-anchor="middle" fill="#222">Voltage (V)</text>
<polyline points="311.4,289.2 316.8,290.7 322.2,292.2 327.6,293.7 333.0,295.1 338.4,296.6 343.8,298.1 349.2,299.6 354.6,300.8 360.0,301.9 365.4,303.1 370.7,304.2 376.1,305.3 381.5,306.4 386.9,307.6 392.3,308.7 397.7,310.3 403.1,311.9 408.5,313.5 413.9,315.1 419.3,317.3 424.7,319.6 430.0,322.6 435.4,325.7 440.8,329.2 446.2,332.8 451.6,337.2 457.0,341.5 462.4,347.3 467.8,353.0 473.2,358.8 478.6,365.7 484.0,372.8 489.4,379.9 494.7,387.0 500.1,394.2 505.5,401.4" fill="none" stroke="#f59a9a" stroke-width="0.7"/>
<circle cx="311.4" cy="289.2" r="2.3" fill="#f01414"/>
<circle cx="316.8" cy="290.7" r="2.3" fill="#f01414"/>
<circle cx="322.2" cy="292.2" r="2.3" fill="#f01414"/>
<circle cx="327.6" cy="293.7" r="2.3" fill="#f01414"/>
<circle cx="333.0" cy="295.1" r="2.3" fill="#f01414"/>
<circle cx="338.4" cy="296.6" r="2.3" fill="#f01414"/>
<circle cx="343.8" cy="298.1" r="2.3" fill="#f01414"/>
<circle cx="349.2" cy="299.6" r="2.3" fill="#f01414"/>
<circle cx="354.6" cy="300.8" r="2.3" fill="#f01414"/>
<circle cx="360.0" cy="301.9" r="2.3" fill="#f01414"/>
<circle cx="365.4" cy="303.1" r="2.3" fill="#f01414"/>
<circle cx="370.7" cy="304.2" r="2.3" fill="#f01414"/>
<circle cx="376.1" cy="305.3" r="2.3" fill="#f01414"/>
<circle cx="381.5" cy="306.4" r="2.3" fill="#f01414"/>
<circle cx="386.9" cy="307.6" r="2.3" fill="#f01414"/>
<circle cx="392.3" cy="308.7" r="2.3" fill="#f01414"/>
<circle cx="397.7" cy="310.3" r="2.3" fill="#f01414"/>
<circle cx="403.1" cy="311.9" r="2.3" fill="#f01414"/>
<circle cx="408.5" cy="313.5" r="2.3" fill="#f01414"/>
<circle cx="413.9" cy="315.1" r="2.3" fill="#f01414"/>
<circle cx="419.3" cy="317.3" r="2.3" fill="#f01414"/>
<circle cx="424.7" cy="319.6" r="2.3" fill="#f01414"/>
<circle cx="430.0" cy="322.6" r="2.3" fill="#f01414"/>
<circle cx="435.4" cy="325.7" r="2.3" fill="#f01414"/>
<circle cx="440.8" cy="329.2" r="2.3" fill="#f01414"/>
<circle cx="446.2" cy="332.8" r="2.3" fill="#f01414"/>
<circle cx="451.6" cy="337.2" r="2.3" fill="#f01414"/>
<circle cx="457.0" cy="341.5" r="2.3" fill="#f01414"/>
<circle cx="462.4" cy="347.3" r="2.3" fill="#f01414"/>
<circle cx="467.8" cy="353.0" r="2.3" fill="#f01414"/>
<circle cx="473.2" cy="358.8" r="2.3" fill="#f01414"/>
<circle cx="478.6" cy="365.7" r="2.3" fill="#f01414"/>
<circle cx="484.0" cy="372.8" r="2.3" fill="#f01414"/>
<circle cx="489.4" cy="379.9" r="2.3" fill="#f01414"/>
<circle cx="494.7" cy="387.0" r="2.3" fill="#f01414"/>
<polyline points="311.4,265.5 316.8,267.6 322.2,269.7 327.6,271.8 333.0,273.8 338.4,275.9 343.8,277.9 349.2,280.0 354.6,282.0 360.0,283.9 365.4,285.8 370.7,287.7 376.1,289.9 381.5,292.2 386.9,294.4 392.3,296.6 397.7,299.2 403.1,301.7 408.5,304.6 413.9,307.5 419.3,310.9 424.7,314.3 430.0,318.1 435.4,321.7 440.8,325.3 446.2,329.1 451.6,333.0 457.0,336.8 462.4,340.7 467.8,345.0 473.2,349.4 478.6,354.1 484.0,358.9 489.4,363.8 494.7,368.8 500.1,374.3 505.5,380.0 510.9,386.3 516.3,393.0 521.7,400.7" fill="none" stroke="#666" stroke-width="0.7"/>
<rect x="309.6" y="263.7" width="3.7" height="3.7" fill="#0a0a0a"/>
<rect x="315.0" y="265.8" width="3.7" height="3.7" fill="#0a0a0a"/>
<rect x="320.4" y="267.8" width="3.7" height="3.7" fill="#0a0a0a"/>
<rect x="325.8" y="269.9" width="3.7" height="3.7" fill="#0a0a0a"/>
<rect x="331.2" y="272.0" width="3.7" height="3.7" fill="#0a0a0a"/>
<rect x="336.5" y="274.0" width="3.7" height="3.7" fill="#0a0a0a"/>
<rect x="341.9" y="276.1" width="3.7" height="3.7" fill="#0a0a0a"/>
<rect x="347.3" y="278.1" width="3.7" height="3.7" fill="#0a0a0a"/>
<rect x="352.7" y="280.2" width="3.7" height="3.7" fill="#0a0a0a"/>
<rect x="358.1" y="282.1" width="3.7" height="3.7" fill="#0a0a0a"/>
<rect x="363.5" y="284.0" width="3.7" height="3.7" fill="#0a0a0a"/>
<rect x="368.9" y="285.9" width="3.7" height="3.7" fill="#0a0a0a"/>
<rect x="374.3" y="288.1" width="3.7" height="3.7" fill="#0a0a0a"/>
<rect x="379.7" y="290.3" width="3.7" height="3.7" fill="#0a0a0a"/>
<rect x="385.1" y="292.5" width="3.7" height="3.7" fill="#0a0a0a"/>
<rect x="390.5" y="294.8" width="3.7" height="3.7" fill="#0a0a0a"/>
<rect x="395.8" y="297.3" width="3.7" height="3.7" fill="#0a0a0a"/>
<rect x="401.2" y="299.9" width="3.7" height="3.7" fill="#0a0a0a"/>
<rect x="406.6" y="302.8" width="3.7" height="3.7" fill="#0a0a0a"/>
<rect x="412.0" y="305.7" width="3.7" height="3.7" fill="#0a0a0a"/>
<rect x="417.4" y="309.1" width="3.7" height="3.7" fill="#0a0a0a"/>
<rect x="422.8" y="312.5" width="3.7" height="3.7" fill="#0a0a0a"/>
<rect x="428.2" y="316.2" width="3.7" height="3.7" fill="#0a0a0a"/>
<rect x="433.6" y="319.9" width="3.7" height="3.7" fill="#0a0a0a"/>
<rect x="439.0" y="323.4" width="3.7" height="3.7" fill="#0a0a0a"/>
<rect x="444.4" y="327.3" width="3.7" height="3.7" fill="#0a0a0a"/>
<rect x="449.8" y="331.1" width="3.7" height="3.7" fill="#0a0a0a"/>
<rect x="455.2" y="335.0" width="3.7" height="3.7" fill="#0a0a0a"/>
<rect x="460.5" y="338.9" width="3.7" height="3.7" fill="#0a0a0a"/>
<rect x="465.9" y="343.2" width="3.7" height="3.7" fill="#0a0a0a"/>
<rect x="471.3" y="347.5" width="3.7" height="3.7" fill="#0a0a0a"/>
<rect x="476.7" y="352.2" width="3.7" height="3.7" fill="#0a0a0a"/>
<rect x="482.1" y="357.0" width="3.7" height="3.7" fill="#0a0a0a"/>
<rect x="487.5" y="362.0" width="3.7" height="3.7" fill="#0a0a0a"/>
<rect x="492.9" y="366.9" width="3.7" height="3.7" fill="#0a0a0a"/>
<rect x="498.3" y="372.5" width="3.7" height="3.7" fill="#0a0a0a"/>
<rect x="503.7" y="378.1" width="3.7" height="3.7" fill="#0a0a0a"/>
<rect x="509.1" y="384.4" width="3.7" height="3.7" fill="#0a0a0a"/>
<rect x="514.5" y="391.2" width="3.7" height="3.7" fill="#0a0a0a"/>
<rect x="519.9" y="398.9" width="3.7" height="3.7" fill="#0a0a0a"/>
<polyline points="311.4,353.9 316.8,354.7 322.2,355.6 327.6,356.4 333.0,357.3 338.4,358.1 343.8,359.0 349.2,359.9 354.6,360.7 360.0,361.5 365.4,362.4 370.7,363.2 376.1,364.0 381.5,364.8 386.9,365.7 392.3,366.5 397.7,367.3 403.1,368.2 408.5,369.0 413.9,369.8 419.3,370.6 424.7,371.5 430.0,372.3 435.4,373.3 440.8,374.4 446.2,375.5 451.6,376.6 457.0,377.9 462.4,379.3 467.8,380.6 473.2,382.0 478.6,384.0 484.0,386.0 489.4,388.1 494.7,391.8 500.1,396.3 505.5,401.6" fill="none" stroke="#7a7ae0" stroke-width="0.7"/>
<polygon points="311.4,351.0 314.2,355.9 308.6,355.9" fill="#1414e6"/>
<polygon points="316.8,351.8 319.6,356.7 314.0,356.7" fill="#1414e6"/>
<polygon points="322.2,352.7 325.0,357.6 319.4,357.6" fill="#1414e6"/>
<polygon points="327.6,353.5 330.4,358.4 324.8,358.4" fill="#1414e6"/>
<polygon points="333.0,354.4 335.8,359.3 330.2,359.3" fill="#1414e6"/>
<polygon points="338.4,355.2 341.2,360.1 335.6,360.1" fill="#1414e6"/>
<polygon points="343.8,356.1 346.6,361.0 341.0,361.0" fill="#1414e6"/>
<polygon points="349.2,357.0 352.0,361.9 346.4,361.9" fill="#1414e6"/>
<polygon points="354.6,357.8 357.4,362.7 351.8,362.7" fill="#1414e6"/>
<polygon points="360.0,358.6 362.8,363.5 357.2,363.5" fill="#1414e6"/>
<polygon points="365.4,359.5 368.2,364.4 362.6,364.4" fill="#1414e6"/>
<polygon points="370.7,360.3 373.5,365.2 367.9,365.2" fill="#1414e6"/>
<polygon points="376.1,361.1 378.9,366.0 373.3,366.0" fill="#1414e6"/>
<polygon points="381.5,361.9 384.3,366.8 378.7,366.8" fill="#1414e6"/>
<polygon points="386.9,362.8 389.7,367.7 384.1,367.7" fill="#1414e6"/>
<polygon points="392.3,363.6 395.1,368.5 389.5,368.5" fill="#1414e6"/>
<polygon points="397.7,364.4 400.5,369.3 394.9,369.3" fill="#1414e6"/>
<polygon points="403.1,365.3 405.9,370.2 400.3,370.2" fill="#1414e6"/>
<polygon points="408.5,366.1 411.3,371.0 405.7,371.0" fill="#1414e6"/>
<polygon points="413.9,366.9 416.7,371.8 411.1,371.8" fill="#1414e6"/>
<polygon points="419.3,367.7 422.1,372.6 416.5,372.6" fill="#1414e6"/>
<polygon points="424.7,368.6 427.5,373.5 421.9,373.5" fill="#1414e6"/>
<polygon points="430.0,369.4 432.8,374.3 427.2,374.3" fill="#1414e6"/>
<polygon points="435.4,370.4 438.2,375.3 432.6,375.3" fill="#1414e6"/>
<polygon points="440.8,371.5 443.6,376.4 438.0,376.4" fill="#1414e6"/>
<polygon points="446.2,372.6 449.0,377.5 443.4,377.5" fill="#1414e6"/>
<polygon points="451.6,373.7 454.4,378.6 448.8,378.6" fill="#1414e6"/>
<polygon points="457.0,375.0 459.8,379.9 454.2,379.9" fill="#1414e6"/>
<polygon points="462.4,376.4 465.2,381.3 459.6,381.3" fill="#1414e6"/>
<polygon points="467.8,377.7 470.6,382.6 465.0,382.6" fill="#1414e6"/>
<polygon points="473.2,379.1 476.0,384.0 470.4,384.0" fill="#1414e6"/>
<polygon points="478.6,381.1 481.4,386.0 475.8,386.0" fill="#1414e6"/>
<polygon points="484.0,383.1 486.8,388.0 481.2,388.0" fill="#1414e6"/>
<polygon points="489.4,385.2 492.2,390.1 486.6,390.1" fill="#1414e6"/>
<polygon points="494.7,388.9 497.5,393.8 491.9,393.8" fill="#1414e6"/>
<polygon points="500.1,393.4 502.9,398.3 497.3,398.3" fill="#1414e6"/>
<polygon points="505.5,398.7 508.3,403.6 502.7,403.6" fill="#1414e6"/>
<polyline points="311.4,267.9 314.3,269.7 317.1,271.5 319.9,273.4 322.8,275.2 325.6,277.0 328.4,278.2 331.2,279.4 334.1,280.6 336.9,281.8 339.7,282.7 342.6,283.3 345.4,283.9 348.2,284.6 351.0,285.6 353.9,287.7 356.7,289.7 359.5,291.7 362.4,293.6 365.2,295.6 368.0,297.6 370.8,299.7 373.7,301.8 376.5,303.9 379.3,306.2 382.2,308.5 385.0,310.8 387.8,313.2 390.6,315.7 393.5,318.5 396.3,321.2 399.1,324.0 402.0,326.8 404.8,329.4 407.6,331.8 410.4,334.3 413.3,336.7 416.1,339.1 418.9,341.5 421.8,344.5 424.6,348.3 427.4,351.4 430.3,354.4 433.1,357.4 435.9,360.3 438.7,363.3 441.6,366.2 444.4,369.2 447.2,372.1 450.1,375.1 452.9,378.0 455.7,380.9 458.5,383.8 461.4,386.7 464.2,389.3 467.0,391.4 469.9,393.5 472.7,395.6 475.5,397.7 478.3,399.8 481.2,401.8" fill="none" stroke="#3aa8a6" stroke-width="0.7"/>
<polygon points="311.4,270.8 314.2,265.9 308.6,265.9" fill="#0a8a88"/>
<polygon points="314.3,272.6 317.1,267.7 311.5,267.7" fill="#0a8a88"/>
<polygon points="317.1,274.4 319.9,269.5 314.3,269.5" fill="#0a8a88"/>
<polygon points="319.9,276.3 322.7,271.4 317.1,271.4" fill="#0a8a88"/>
<polygon points="322.8,278.1 325.6,273.2 320.0,273.2" fill="#0a8a88"/>
<polygon points="325.6,279.9 328.4,275.0 322.8,275.0" fill="#0a8a88"/>
<polygon points="328.4,281.1 331.2,276.2 325.6,276.2" fill="#0a8a88"/>
<polygon points="331.2,282.3 334.0,277.4 328.4,277.4" fill="#0a8a88"/>
<polygon points="334.1,283.5 336.9,278.6 331.3,278.6" fill="#0a8a88"/>
<polygon points="336.9,284.7 339.7,279.8 334.1,279.8" fill="#0a8a88"/>
<polygon points="339.7,285.6 342.5,280.7 336.9,280.7" fill="#0a8a88"/>
<polygon points="342.6,286.2 345.4,281.3 339.8,281.3" fill="#0a8a88"/>
<polygon points="345.4,286.8 348.2,281.9 342.6,281.9" fill="#0a8a88"/>
<polygon points="348.2,287.5 351.0,282.6 345.4,282.6" fill="#0a8a88"/>
<polygon points="351.0,288.5 353.8,283.6 348.2,283.6" fill="#0a8a88"/>
<polygon points="353.9,290.6 356.7,285.7 351.1,285.7" fill="#0a8a88"/>
<polygon points="356.7,292.6 359.5,287.7 353.9,287.7" fill="#0a8a88"/>
<polygon points="359.5,294.6 362.3,289.7 356.7,289.7" fill="#0a8a88"/>
<polygon points="362.4,296.5 365.2,291.6 359.6,291.6" fill="#0a8a88"/>
<polygon points="365.2,298.5 368.0,293.6 362.4,293.6" fill="#0a8a88"/>
<polygon points="368.0,300.5 370.8,295.6 365.2,295.6" fill="#0a8a88"/>
<polygon points="370.8,302.6 373.6,297.7 368.0,297.7" fill="#0a8a88"/>
<polygon points="373.7,304.7 376.5,299.8 370.9,299.8" fill="#0a8a88"/>
<polygon points="376.5,306.8 379.3,301.9 373.7,301.9" fill="#0a8a88"/>
<polygon points="379.3,309.1 382.1,304.2 376.5,304.2" fill="#0a8a88"/>
<polygon points="382.2,311.4 385.0,306.5 379.4,306.5" fill="#0a8a88"/>
<polygon points="385.0,313.7 387.8,308.8 382.2,308.8" fill="#0a8a88"/>
<polygon points="387.8,316.1 390.6,311.2 385.0,311.2" fill="#0a8a88"/>
<polygon points="390.6,318.6 393.4,313.7 387.8,313.7" fill="#0a8a88"/>
<polygon points="393.5,321.4 396.3,316.5 390.7,316.5" fill="#0a8a88"/>
<polygon points="396.3,324.1 399.1,319.2 393.5,319.2" fill="#0a8a88"/>
<polygon points="399.1,326.9 401.9,322.0 396.3,322.0" fill="#0a8a88"/>
<polygon points="402.0,329.7 404.8,324.8 399.2,324.8" fill="#0a8a88"/>
<polygon points="404.8,332.3 407.6,327.4 402.0,327.4" fill="#0a8a88"/>
<polygon points="407.6,334.7 410.4,329.8 404.8,329.8" fill="#0a8a88"/>
<polygon points="410.4,337.2 413.2,332.3 407.6,332.3" fill="#0a8a88"/>
<polygon points="413.3,339.6 416.1,334.7 410.5,334.7" fill="#0a8a88"/>
<polygon points="416.1,342.0 418.9,337.1 413.3,337.1" fill="#0a8a88"/>
<polygon points="418.9,344.4 421.7,339.5 416.1,339.5" fill="#0a8a88"/>
<polygon points="421.8,347.4 424.6,342.5 419.0,342.5" fill="#0a8a88"/>
<polygon points="424.6,351.2 427.4,346.3 421.8,346.3" fill="#0a8a88"/>
<polygon points="427.4,354.3 430.2,349.4 424.6,349.4" fill="#0a8a88"/>
<polygon points="430.3,357.3 433.1,352.4 427.5,352.4" fill="#0a8a88"/>
<polygon points="433.1,360.3 435.9,355.4 430.3,355.4" fill="#0a8a88"/>
<polygon points="435.9,363.2 438.7,358.3 433.1,358.3" fill="#0a8a88"/>
<polygon points="438.7,366.2 441.5,361.3 435.9,361.3" fill="#0a8a88"/>
<polygon points="441.6,369.1 444.4,364.2 438.8,364.2" fill="#0a8a88"/>
<polygon points="444.4,372.1 447.2,367.2 441.6,367.2" fill="#0a8a88"/>
<polygon points="447.2,375.0 450.0,370.1 444.4,370.1" fill="#0a8a88"/>
<polygon points="450.1,378.0 452.9,373.1 447.3,373.1" fill="#0a8a88"/>
<polygon points="452.9,380.9 455.7,376.0 450.1,376.0" fill="#0a8a88"/>
<polygon points="455.7,383.8 458.5,378.9 452.9,378.9" fill="#0a8a88"/>
<polygon points="458.5,386.7 461.3,381.8 455.7,381.8" fill="#0a8a88"/>
<polygon points="461.4,389.6 464.2,384.7 458.6,384.7" fill="#0a8a88"/>
<polygon points="464.2,392.2 467.0,387.3 461.4,387.3" fill="#0a8a88"/>
<polygon points="467.0,394.3 469.8,389.4 464.2,389.4" fill="#0a8a88"/>
<polygon points="469.9,396.4 472.7,391.5 467.1,391.5" fill="#0a8a88"/>
<polygon points="472.7,398.5 475.5,393.6 469.9,393.6" fill="#0a8a88"/>
<polygon points="475.5,400.6 478.3,395.7 472.7,395.7" fill="#0a8a88"/>
<polygon points="478.3,402.7 481.1,397.8 475.5,397.8" fill="#0a8a88"/>
<polygon points="481.2,404.7 484.0,399.8 478.4,399.8" fill="#0a8a88"/>
<line x1="367.5" y1="239.3" x2="384.5" y2="239.3" stroke="#f59a9a" stroke-width="0.8"/>
<circle cx="376.2" cy="239.3" r="2.3" fill="#f01414"/>
<text class="s" x="387.6" y="242.4" font-size="9" fill="#222">20 mM</text>
<line x1="367.5" y1="249.8" x2="384.5" y2="249.8" stroke="#777" stroke-width="0.8"/>
<rect x="374.3" y="248.0" width="3.7" height="3.7" fill="#0a0a0a"/>
<text class="s" x="387.6" y="252.9" font-size="9" fill="#222">30 mM PLD-ZnO seed layer</text>
<line x1="367.5" y1="261.0" x2="384.5" y2="261.0" stroke="#7a7ae0" stroke-width="0.8"/>
<polygon points="376.2,258.1 379.0,263.0 373.4,263.0" fill="#1414e6"/>
<text class="s" x="387.6" y="264.1" font-size="9" fill="#222">40 mM</text>
<line x1="367.5" y1="272.4" x2="384.5" y2="272.4" stroke="#3aa8a6" stroke-width="0.8"/>
<polygon points="376.2,275.3 379.0,270.4 373.4,270.4" fill="#0a8a88"/>
<text class="s" x="387.6" y="275.5" font-size="9" fill="#222">30 mM spin-coated  ZnO seed layer</text>
<text class="b" x="293.6" y="226.6" font-size="15.5" text-anchor="middle" fill="#111">(d)</text>
</g>
</g>
</svg>
</body></html>
